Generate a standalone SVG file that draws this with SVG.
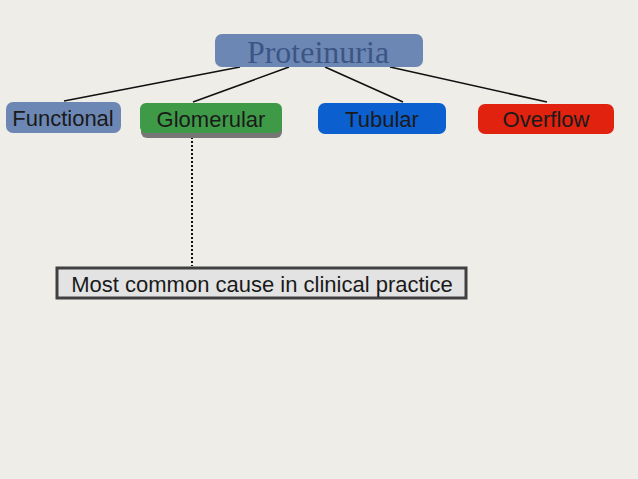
<svg xmlns="http://www.w3.org/2000/svg" width="638" height="479" viewBox="0 0 638 479">
<style>
.t{font-family:"Liberation Sans",Arial,sans-serif;font-size:22px;fill:#1a1a1a;text-anchor:middle}
.c{stroke:#111;stroke-width:1.6;fill:none}
</style>
<rect width="638" height="479" fill="#efede8"/>
<g id="connectors">
<path class="c" d="M240 67L64 101M289 67L193 102M325 67L403 102M390 67L547 102"/>
<path d="M192 137V266" stroke="#111" stroke-width="2" stroke-dasharray="2 2"/>
</g>
<g id="proteinuria"><rect x="215" y="34" width="208" height="33" rx="7" fill="#6c87b3"/>
<text x="318" y="63" font-family="Liberation Serif,serif" font-size="32" fill="#3c5586" text-anchor="middle">Proteinuria</text></g>
<g id="functional"><rect x="6" y="102" width="115" height="31" rx="7" fill="#6c87b3"/><text class="t" x="63" y="126">Functional</text></g>
<g id="glomerular"><rect x="141" y="108" width="141" height="30" rx="6" fill="#777"/><rect x="140" y="103" width="142" height="30" rx="6" fill="#3f9a48"/><text class="t" x="211" y="127">Glomerular</text></g>
<g id="tubular"><rect x="318" y="103" width="128" height="31" rx="7" fill="#0c5fcf"/><text class="t" x="382" y="127">Tubular</text></g>
<g id="overflow"><rect x="478" y="104" width="136" height="30" rx="7" fill="#e0220f"/><text class="t" x="546" y="127">Overflow</text></g>
<g id="note"><rect x="57" y="268" width="409" height="30" fill="#e3e3e3" stroke="#404040" stroke-width="3"/><text class="t" x="262" y="292" font-size="22.5">Most common cause in clinical practice</text></g>
</svg>
